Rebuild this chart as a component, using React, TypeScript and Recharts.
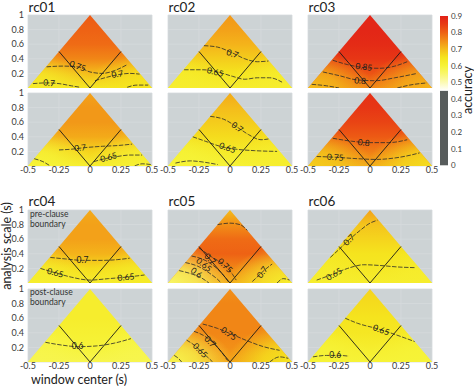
import React from "react";
import { Area, Bar, BarChart, CartesianGrid, ComposedChart, Line, Scatter, XAxis, YAxis } from "recharts";

type Pt = [number, number];
type Lbl = { x: number; y: number; t: string; a: number };

const X_TICKS = [-0.5, -0.25, 0, 0.25, 0.5];
const Y_TICKS = [0.2, 0.4, 0.6, 0.8, 1];
const CB_TICKS = [0, 0.1, 0.2, 0.3, 0.4, 0.5, 0.6, 0.7, 0.8, 0.9];
const SCALE_LEVELS = [0, 0.2, 0.4, 0.6, 0.8, 1];

const TRIANGLE = [
  { x: -0.5, y: 0 },
  { x: 0, y: 1 },
  { x: 0.5, y: 0 },
];
const V_LINE = [
  { x: -0.25, y: 0.5 },
  { x: 0, y: 0 },
  { x: 0.25, y: 0.5 },
];

// accuracy read along analysis scale (0 .. 1) at the centre of each sub panel
const rc01Pre = [0.64, 0.7, 0.76, 0.79, 0.8, 0.81];
const rc01Post = [0.62, 0.67, 0.72, 0.74, 0.74, 0.73];
const rc02Pre = [0.62, 0.65, 0.68, 0.71, 0.73, 0.74];
const rc02Post = [0.6, 0.63, 0.66, 0.68, 0.7, 0.72];
const rc03Pre = [0.76, 0.82, 0.86, 0.88, 0.89, 0.89];
const rc03Post = [0.72, 0.77, 0.81, 0.84, 0.86, 0.87];
const rc04Pre = [0.62, 0.66, 0.71, 0.73, 0.73, 0.72];
const rc04Post = [0.58, 0.6, 0.61, 0.62, 0.62, 0.62];
const rc05Pre = [0.72, 0.76, 0.8, 0.79, 0.75, 0.7];
const rc05Post = [0.73, 0.75, 0.76, 0.76, 0.76, 0.75];
const rc06Pre = [0.62, 0.64, 0.65, 0.67, 0.69, 0.73];
const rc06Post = [0.6, 0.62, 0.64, 0.65, 0.66, 0.67];

// accuracy at the left / right bottom corners
const rc01PreSide = [0.63, 0.65];
const rc01PostSide = [0.6, 0.61];
const rc02PreSide = [0.62, 0.62];
const rc02PostSide = [0.6, 0.62];
const rc03PreSide = [0.7, 0.71];
const rc03PostSide = [0.68, 0.66];
const rc04PreSide = [0.62, 0.63];
const rc04PostSide = [0.58, 0.58];
const rc05PreSide = [0.56, 0.62];
const rc05PostSide = [0.58, 0.65];
const rc06PreSide = [0.62, 0.62];
const rc06PostSide = [0.6, 0.6];

// contour lines (window center, analysis scale)
const rc01PreLines: Pt[][] = [
  [[-0.35, 0.29], [-0.22, 0.3], [-0.1, 0.29], [0, 0.22], [0.1, 0.2], [0.2, 0.24], [0.3, 0.32]],
  [[0.04, 0.1], [0.12, 0.14], [0.22, 0.18], [0.32, 0.2], [0.4, 0.19]],
  [[-0.46, 0.06], [-0.35, 0.07], [-0.25, 0.06], [-0.15, 0.03], [-0.08, 0.01]],
  [[0.3, 0.01], [0.38, 0.04], [0.47, 0.04]],
];
const rc01PreLabels: Lbl[] = [
  { x: -0.1, y: 0.3, t: "0.75", a: 20 },
  { x: 0.22, y: 0.19, t: "0.7", a: -10 },
  { x: -0.33, y: 0.07, t: "0.7", a: 5 },
];
const rc01PostLines: Pt[][] = [
  [[-0.25, 0.22], [-0.15, 0.23], [-0.05, 0.25], [0.1, 0.27], [0.22, 0.28], [0.34, 0.3]],
  [[0.03, 0.06], [0.12, 0.1], [0.22, 0.13], [0.32, 0.15], [0.42, 0.15]],
  [[-0.45, 0.1], [-0.38, 0.06], [-0.32, 0]],
  [[0.36, 0], [0.42, 0.03], [0.49, 0.02]],
];
const rc01PostLabels: Lbl[] = [
  { x: -0.08, y: 0.25, t: "0.7", a: -5 },
  { x: 0.15, y: 0.12, t: "0.65", a: -15 },
];
const rc02PreLines: Pt[][] = [
  [[-0.21, 0.58], [-0.1, 0.56], [0.02, 0.48], [0.12, 0.4], [0.22, 0.36], [0.31, 0.37]],
  [[-0.37, 0.25], [-0.22, 0.25], [-0.1, 0.22], [0.02, 0.16], [0.12, 0.12], [0.22, 0.14], [0.32, 0.14], [0.42, 0.08]],
];
const rc02PreLabels: Lbl[] = [
  { x: 0.02, y: 0.47, t: "0.7", a: 20 },
  { x: -0.12, y: 0.22, t: "0.65", a: 15 },
];
const rc02PostLines: Pt[][] = [
  [[-0.16, 0.68], [-0.05, 0.64], [0.06, 0.53], [0.15, 0.43], [0.25, 0.36], [0.31, 0.37]],
  [[-0.3, 0.4], [-0.2, 0.34], [-0.08, 0.27], [0.05, 0.23], [0.2, 0.21], [0.38, 0.2]],
  [[-0.44, 0.04], [-0.32, 0.07], [-0.2, 0.05], [-0.1, 0.02]],
];
const rc02PostLabels: Lbl[] = [
  { x: 0.06, y: 0.53, t: "0.7", a: 35 },
  { x: -0.02, y: 0.25, t: "0.65", a: 20 },
];
const rc03PreLines: Pt[][] = [
  [[-0.3, 0.38], [-0.18, 0.32], [-0.05, 0.28], [0.08, 0.27], [0.2, 0.3], [0.3, 0.36]],
  [[-0.38, 0.22], [-0.25, 0.17], [-0.1, 0.11], [0.05, 0.1], [0.2, 0.14], [0.38, 0.2]],
  [[-0.47, 0.05], [-0.35, 0.03], [-0.25, 0]],
  [[0.22, 0], [0.32, 0.04], [0.46, 0.07]],
];
const rc03PreLabels: Lbl[] = [
  { x: -0.05, y: 0.29, t: "0.85", a: 8 },
  { x: -0.08, y: 0.1, t: "0.8", a: 5 },
];
const rc03PostLines: Pt[][] = [
  [[-0.3, 0.38], [-0.15, 0.34], [0, 0.32], [0.15, 0.32], [0.3, 0.36]],
  [[-0.43, 0.13], [-0.28, 0.12], [-0.1, 0.1], [0.05, 0.09], [0.2, 0.11], [0.33, 0.15], [0.4, 0.18]],
];
const rc03PostLabels: Lbl[] = [
  { x: -0.05, y: 0.32, t: "0.8", a: 5 },
  { x: -0.28, y: 0.12, t: "0.75", a: 3 },
];
const rc04PreLines: Pt[][] = [
  [[-0.32, 0.35], [-0.2, 0.33], [-0.06, 0.31], [0.1, 0.31], [0.22, 0.32], [0.32, 0.34]],
  [[-0.4, 0.2], [-0.28, 0.14], [-0.15, 0.08], [0, 0.04], [0.15, 0.06], [0.29, 0.08], [0.44, 0.11]],
];
const rc04PreLabels: Lbl[] = [
  { x: -0.06, y: 0.31, t: "0.7", a: 0 },
  { x: -0.28, y: 0.14, t: "0.65", a: 15 },
  { x: 0.29, y: 0.08, t: "0.65", a: -5 },
];
const rc04PostLines: Pt[][] = [
  [[-0.36, 0.27], [-0.22, 0.23], [-0.1, 0.21], [0.05, 0.22], [0.2, 0.26], [0.33, 0.32]],
];
const rc04PostLabels: Lbl[] = [{ x: -0.1, y: 0.22, t: "0.6", a: 0 }];
const rc05PreLines: Pt[][] = [
  [[-0.25, 0.48], [-0.15, 0.36], [-0.05, 0.25], [0.02, 0.12], [0.05, 0.04]],
  [[-0.31, 0.37], [-0.2, 0.31], [-0.12, 0.22], [-0.05, 0.1], [-0.01, 0.01]],
  [[-0.36, 0.28], [-0.26, 0.23], [-0.17, 0.14], [-0.1, 0.05], [-0.07, 0]],
  [[-0.41, 0.17], [-0.32, 0.13], [-0.23, 0.07], [-0.17, 0]],
  [[-0.1, 0.8], [0, 0.82], [0.08, 0.8], [0.14, 0.72]],
  [[0.18, 0.02], [0.23, 0.1], [0.28, 0.18], [0.34, 0.26]],
  [[0.38, 0], [0.43, 0.06], [0.48, 0.04]],
];
const rc05PreLabels: Lbl[] = [
  { x: -0.16, y: 0.33, t: "0.7", a: 45 },
  { x: -0.21, y: 0.25, t: "0.65", a: 40 },
  { x: -0.27, y: 0.14, t: "0.6", a: 35 },
  { x: -0.04, y: 0.24, t: "0.75", a: 45 },
  { x: 0.26, y: 0.15, t: "0.7", a: -55 },
];
const rc05PostLines: Pt[][] = [
  [[-0.22, 0.52], [-0.1, 0.46], [0, 0.39], [0.14, 0.29], [0.27, 0.21], [0.4, 0.16]],
  [[-0.29, 0.42], [-0.2, 0.35], [-0.14, 0.27], [-0.07, 0.14], [-0.02, 0.02]],
  [[-0.35, 0.3], [-0.28, 0.22], [-0.23, 0.14], [-0.17, 0.05], [-0.14, 0]],
  [[-0.45, 0.09], [-0.41, 0.04], [-0.39, 0]],
  [[0.32, 0], [0.4, 0.07], [0.47, 0.05]],
];
const rc05PostLabels: Lbl[] = [
  { x: -0.01, y: 0.39, t: "0.75", a: 35 },
  { x: -0.16, y: 0.28, t: "0.7", a: 45 },
  { x: -0.24, y: 0.16, t: "0.65", a: 45 },
];
const rc06PreLines: Pt[][] = [
  [[-0.32, 0.35], [-0.25, 0.46], [-0.17, 0.59], [-0.08, 0.72], [0, 0.82], [0.06, 0.86]],
  [[-0.43, 0.04], [-0.3, 0.12], [-0.18, 0.2], [-0.05, 0.25], [0.08, 0.24], [0.22, 0.22], [0.37, 0.21]],
];
const rc06PreLabels: Lbl[] = [
  { x: -0.17, y: 0.59, t: "0.7", a: -45 },
  { x: -0.29, y: 0.12, t: "0.65", a: -30 },
];
const rc06PostLines: Pt[][] = [
  [[-0.2, 0.6], [-0.1, 0.53], [0.05, 0.46], [0.18, 0.39], [0.28, 0.33], [0.36, 0.28]],
  [[-0.46, 0.07], [-0.35, 0.09], [-0.25, 0.09], [-0.17, 0.08]],
];
const rc06PostLabels: Lbl[] = [
  { x: 0.09, y: 0.44, t: "0.65", a: 20 },
  { x: -0.28, y: 0.1, t: "0.6", a: 0 },
];

const TITLES = ["rc01", "rc02", "rc03", "rc04", "rc05", "rc06"];
const PROFILES = [
  [rc01Pre, rc01Post],
  [rc02Pre, rc02Post],
  [rc03Pre, rc03Post],
  [rc04Pre, rc04Post],
  [rc05Pre, rc05Post],
  [rc06Pre, rc06Post],
];
const SIDES = [
  [rc01PreSide, rc01PostSide],
  [rc02PreSide, rc02PostSide],
  [rc03PreSide, rc03PostSide],
  [rc04PreSide, rc04PostSide],
  [rc05PreSide, rc05PostSide],
  [rc06PreSide, rc06PostSide],
];
const LINES = [
  [rc01PreLines, rc01PostLines],
  [rc02PreLines, rc02PostLines],
  [rc03PreLines, rc03PostLines],
  [rc04PreLines, rc04PostLines],
  [rc05PreLines, rc05PostLines],
  [rc06PreLines, rc06PostLines],
];
const LABELS = [
  [rc01PreLabels, rc01PostLabels],
  [rc02PreLabels, rc02PostLabels],
  [rc03PreLabels, rc03PostLabels],
  [rc04PreLabels, rc04PostLabels],
  [rc05PreLabels, rc05PostLabels],
  [rc06PreLabels, rc06PostLabels],
];

// colormap: white -> yellow -> orange -> red
const MAP_AT = [0.45, 0.5, 0.55, 0.6, 0.65, 0.7, 0.75, 0.8, 0.85, 0.9];
const MAP_RGB = [
  [255, 255, 255],
  [252, 250, 180],
  [249, 247, 110],
  [246, 243, 55],
  [245, 228, 30],
  [244, 188, 27],
  [242, 143, 23],
  [238, 98, 20],
  [232, 60, 20],
  [226, 32, 24],
];

function accColor(v: number) {
  if (v <= MAP_AT[0]) return "rgb(255,255,255)";
  for (let i = 1; i < MAP_AT.length; i++) {
    if (v <= MAP_AT[i]) {
      const f = (v - MAP_AT[i - 1]) / (MAP_AT[i] - MAP_AT[i - 1]);
      const c = MAP_RGB[i].map((b, k) => Math.round(MAP_RGB[i - 1][k] + (b - MAP_RGB[i - 1][k]) * f));
      return `rgb(${c.join(",")})`;
    }
  }
  return `rgb(${MAP_RGB[MAP_RGB.length - 1].join(",")})`;
}

const FONT = "Lato, 'Open Sans', sans-serif";
const COL_X = [27.5, 167.5, 307.5];
const ROW_TOP = [
  [15, 93],
  [210, 289],
];
const PW = 124;
const PH = 73;

const contourLabel = (p: any) => (
  <text
    x={p.cx}
    y={p.cy}
    transform={`rotate(${p.payload.a} ${p.cx} ${p.cy})`}
    textAnchor="middle"
    dominantBaseline="central"
    fontSize={8.5}
    fill="#1c1c1c"
    fontFamily={FONT}
  >
    {p.payload.t}
  </text>
);

function CornerGradient({ id, cx, color }: { id: string; cx: number; color: string }) {
  return (
    <radialGradient id={id} cx={cx} cy={1} r={0.52} fx={cx} fy={1}>
      <stop offset={0} stopColor={color} stopOpacity={1} />
      <stop offset={0.45} stopColor={color} stopOpacity={0.75} />
      <stop offset={1} stopColor={color} stopOpacity={0} />
    </radialGradient>
  );
}

function SubPanel({ idx, sub }: { idx: number; sub: number }) {
  const col = idx % 3;
  const row = Math.floor(idx / 3);
  const bottom = sub === 1;
  const padL = col === 0 ? 27 : 12;
  const padR = 12;
  const padT = 6;
  const gid = `g${idx}_${sub}`;
  const prof = PROFILES[idx][sub];
  const side = SIDES[idx][sub];
  const stops = SCALE_LEVELS.map((s, i) => ({ off: 1 - s, c: accColor(prof[i]) })).reverse();
  return (
    <div style={{ position: "absolute", left: COL_X[col] - padL, top: ROW_TOP[row][sub] - padT }}>
      <ComposedChart
        width={PW + padL + padR}
        height={PH + padT + (bottom ? 14 : 0)}
        data={TRIANGLE}
        margin={{ top: padT, right: padR, bottom: 0, left: col === 0 ? 0 : padL }}
      >
        <defs>
          <linearGradient id={gid} x1="0" y1="0" x2="0" y2="1">
            {stops.map((s, i) => (
              <stop key={i} offset={s.off} stopColor={s.c} />
            ))}
          </linearGradient>
          <CornerGradient id={`${gid}L`} cx={0} color={accColor(side[0])} />
          <CornerGradient id={`${gid}R`} cx={1} color={accColor(side[1])} />
        </defs>
        <CartesianGrid fill="#cdd3d5" stroke="#d6dbdd" strokeWidth={0.8} />
        <XAxis
          type="number"
          dataKey="x"
          domain={[-0.5, 0.5]}
          ticks={X_TICKS}
          interval={0}
          hide={!bottom}
          height={14}
          tickSize={0}
          tickMargin={1}
          axisLine={false}
          tick={{ fontSize: 9, fill: "#3a3a3a", fontFamily: FONT }}
          allowDataOverflow
        />
        <YAxis
          type="number"
          dataKey="y"
          domain={[0, 1]}
          ticks={Y_TICKS}
          interval={0}
          hide={col !== 0}
          width={27}
          tickSize={0}
          tickMargin={4}
          axisLine={false}
          tick={{ fontSize: 9, fill: "#3a3a3a", fontFamily: FONT }}
          allowDataOverflow
        />
        {["", "L", "R"].map((k) => (
          <Area
            key={k}
            data={TRIANGLE}
            dataKey="y"
            type="linear"
            fill={`url(#${gid}${k})`}
            fillOpacity={1}
            stroke="none"
            baseValue={0}
            isAnimationActive={false}
          />
        ))}
        {LINES[idx][sub].map((pts, i) => (
          <Line
            key={i}
            data={pts.map(([x, y]) => ({ x, y }))}
            dataKey="y"
            type="monotone"
            stroke="#2a2a2a"
            strokeWidth={0.8}
            strokeDasharray="4.5 1.5"
            dot={false}
            isAnimationActive={false}
          />
        ))}
        <Line
          data={V_LINE}
          dataKey="y"
          type="linear"
          stroke="#1a1a1a"
          strokeWidth={0.9}
          dot={false}
          isAnimationActive={false}
        />
        <Scatter data={LABELS[idx][sub]} dataKey="y" shape={contourLabel} isAnimationActive={false} />
      </ComposedChart>
    </div>
  );
}

const CB_DATA = [{ name: "accuracy", below: 0.45, above: 0.45 }];

function ColorBar() {
  const stops = MAP_AT.slice()
    .reverse()
    .map((v) => ({ off: (0.9 - v) / 0.45, c: accColor(v) }));
  return (
    <div style={{ position: "absolute", left: 439.5, top: 11.7 }}>
      <BarChart width={32} height={157.3} data={CB_DATA} margin={{ top: 4, right: 0, bottom: 4, left: 0 }} barCategoryGap={0}>
        <defs>
          <linearGradient id="cbg" x1="0" y1="0" x2="0" y2="1">
            {stops.map((s, i) => (
              <stop key={i} offset={s.off} stopColor={s.c} />
            ))}
          </linearGradient>
        </defs>
        <XAxis dataKey="name" hide />
        <YAxis
          orientation="right"
          type="number"
          domain={[0, 0.9]}
          ticks={CB_TICKS}
          interval={0}
          width={24}
          tickSize={0}
          tickMargin={3}
          axisLine={false}
          tick={{ fontSize: 8, fill: "#3a3a3a", fontFamily: FONT, textAnchor: "start" }}
        />
        <Bar dataKey="below" stackId="a" fill="#575c5c" isAnimationActive={false} />
        <Bar dataKey="above" stackId="a" fill="url(#cbg)" isAnimationActive={false} />
      </BarChart>
    </div>
  );
}

const txt = (extra: React.CSSProperties): React.CSSProperties => ({
  position: "absolute",
  fontFamily: FONT,
  color: "#222",
  whiteSpace: "nowrap",
  lineHeight: 1.15,
  ...extra,
});

export default function App() {
  return (
    <div style={{ position: "absolute", left: 0, top: 0, width: 474, height: 386, background: "#fff", overflow: "hidden" }}>
      {TITLES.map((t, i) => (
        <div key={t} style={txt({ left: COL_X[i % 3] + 1, top: i < 3 ? 0 : 194, fontSize: 13.5 })}>
          {t}
        </div>
      ))}
      {TITLES.map((t, i) => (
        <React.Fragment key={t + "p"}>
          <SubPanel idx={i} sub={0} />
          <SubPanel idx={i} sub={1} />
        </React.Fragment>
      ))}
      <ColorBar />
      <div style={txt({ left: 30, top: 209, fontSize: 8.5, lineHeight: "10px", color: "#333" })}>
        pre-clause
        <br />
        boundary
      </div>
      <div style={txt({ left: 30, top: 287, fontSize: 8.5, lineHeight: "10px", color: "#333" })}>
        post-clause
        <br />
        boundary
      </div>
      <div style={txt({ left: 468, top: 90, fontSize: 12.5, transform: "translate(-50%,-50%) rotate(-90deg)" })}>accuracy</div>
      <div style={txt({ left: 7, top: 246, fontSize: 12.5, transform: "translate(-50%,-50%) rotate(-90deg)" })}>
        analysis scale (s)
      </div>
      <div style={txt({ left: 79, top: 380, fontSize: 12.5, lineHeight: 1, transform: "translate(-50%,-50%)" })}>
        window center (s)
      </div>
    </div>
  );
}
